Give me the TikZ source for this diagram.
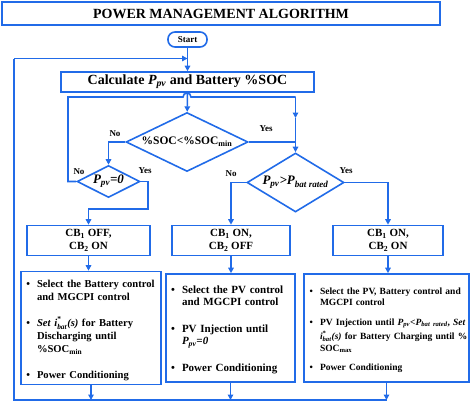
\documentclass[tikz,border=0pt]{standalone}
\usepackage{amsmath}
\usepackage{fontspec}
\setmainfont{Liberation Serif}
\usetikzlibrary{shapes.geometric,arrows.meta}
\definecolor{pmblue}{RGB}{33,107,232}

\newcommand{\pmfs}[2]{\fontsize{#1}{#2}\selectfont}
\newcommand{\ctr}[1]{\makebox[0pt]{#1}}
\newcommand{\Ppv}{$\textit{P}_{\textit{pv}}$}
\newcommand{\Pbr}{$\textit{P}_{\textit{bat rated}}$}
\newcommand{\ibat}{$\textit{i}^{\text{*}}_{\textit{bat}}$\textit{(s)}}
\newenvironment{pmlist}[1]{\begin{list}{\textbullet}{%
    \setlength{\leftmargin}{13pt}\setlength{\labelwidth}{6pt}%
    \setlength{\labelsep}{7pt}\setlength{\itemsep}{#1}%
    \setlength{\topsep}{0pt}\setlength{\parsep}{0pt}\setlength{\partopsep}{0pt}}}%
  {\end{list}}

\begin{document}
\begin{tikzpicture}[x=1pt, y=-1pt, line width=1.6pt, color=pmblue, text=black,
    every node/.style={font=\bfseries},
    blk/.style={draw=pmblue, align=center, inner sep=2pt},
    dia/.style={diamond, draw=pmblue, inner sep=0pt, aspect=1},
    act/.style={draw=pmblue, align=left, inner xsep=3pt, minimum height=108},
    lbl/.style={font=\bfseries\pmfs{9}{10}},
    arr/.style={-{Triangle[length=5.5pt, width=5.5pt]}}]
    \useasboundingbox (0,0) rectangle (474,402);

    \node[blk, minimum width=438, minimum height=23, font=\bfseries\pmfs{14}{16}] (title) at (221,13.5) {POWER MANAGEMENT ALGORITHM};
    \node[draw=pmblue, rounded corners=7pt, minimum width=39, minimum height=15, inner sep=0pt, font=\bfseries\pmfs{9}{10}] (start) at (187.5,39.5) {Start};
    \node[blk, minimum width=253, minimum height=20, font=\bfseries\pmfs{14}{16}] (calc) at (187.5,82) {Calculate \Ppv{} and Battery \%SOC};

    \node[dia, minimum width=122, minimum height=59, font=\bfseries\pmfs{11.5}{13}] (soc) at (187,142) {\ctr{\%SOC<\%SOC$_{\text{min}}$}};
    \node[dia, minimum width=63, minimum height=32, font=\bfseries\itshape\pmfs{13}{14}] (ppv) at (108.5,181.5) {\ctr{\Ppv=0}};
    \node[dia, minimum width=97, minimum height=59, font=\bfseries\itshape\pmfs{13}{14}] (rated) at (295.5,182.5) {\ctr{\Ppv>\Pbr}};

    \node[blk, minimum width=123, minimum height=30, font=\bfseries\pmfs{11}{13}] (cb1) at (88.5,240.5) {CB\textsubscript{1} OFF,\\CB\textsubscript{2} ON};
    \node[blk, minimum width=118, minimum height=30, font=\bfseries\pmfs{11}{13}] (cb2) at (231,240.5) {CB\textsubscript{1} ON,\\CB\textsubscript{2} OFF};
    \node[blk, minimum width=110, minimum height=30, font=\bfseries\pmfs{11}{13}] (cb3) at (388,240.5) {CB\textsubscript{1} ON,\\CB\textsubscript{2} ON};

    \node[act, text width=134, font=\bfseries\pmfs{10.6}{13}] (act1) at (91,328) {%
      \begin{pmlist}{13pt}
        \item Select the Battery control\\ and MGCPI control
        \item \textit{Set} \ibat{} for Battery\\ Discharging until\\ \%SOC$_{\text{min}}$
        \item Power Conditioning
      \end{pmlist}};
    \node[act, text width=123, font=\bfseries\pmfs{11}{12}] (act2) at (230.5,328) {%
      \begin{pmlist}{15pt}
        \item Select the PV control\\ and MGCPI control
        \item PV Injection until\\ \textit{\Ppv=0}
        \item Power Conditioning
      \end{pmlist}};
    \node[act, text width=159, font=\bfseries\pmfs{9.5}{11.5}] (act3) at (386.5,328) {%
      \begin{pmlist}{8pt}
        \item Select the PV, Battery control and\\ MGCPI control
        \item \mbox{PV Injection until \Ppv<\Pbr, \textit{Set}}\\[3pt] \mbox{\ibat{} for Battery Charging until \%}\\ SOC$_{\text{max}}$
        \item Power Conditioning
      \end{pmlist}};

    \node[lbl] (socno) at (115,134) {No};
    \node[lbl] (socyes) at (266,129) {Yes};
    \node[lbl] (ppvno) at (79,172) {No};
    \node[lbl] (ppvyes) at (145,171) {Yes};
    \node[lbl] (ratedno) at (231,174) {No};
    \node[lbl] (ratedyes) at (346,171) {Yes};

    \coordinate (loopL) at (68,97);
    \coordinate (hopA) at (183,97);
    \coordinate (loopR) at (295.5,97);
    \coordinate (loopM) at (295.5,118);
    \coordinate (ppvY) at (148,209);
    \coordinate (fbB) at (14,400);
    \coordinate (fbT) at (14,58.5);

    \draw[arr] (start) -- (calc);
    \draw[arr] (calc) -- (soc);
    \draw (ppv.west) -| (loopL) -- (hopA) arc[start angle=180, end angle=360, radius=4] -- (loopR);
    \draw[arr] (loopR) -- (loopM);
    \draw[arr] (loopM) -- (rated.north);
    \draw (soc.east) -- (soc.east -| rated.north);
    \draw[arr] (soc.west) -| (ppv.north);
    \draw[arr] (ppv.east) -| (ppvY) -| (cb1.north);
    \draw[arr] (rated.west) -| (cb2.north);
    \draw[arr] (rated.east) -| (cb3.north);

    \draw[arr] (cb1.south) -- (cb1.south |- act1.north);
    \draw[arr] (cb2.south) -- (cb2.south |- act2.north);
    \draw[arr] (cb3.south) -- (cb3.south |- act3.north);

    \draw[arr] (act1.south) -- (act1.south |- fbB);
    \draw[arr] (act2.south) -- (act2.south |- fbB);
    \draw[arr] (act3.south) -- (act3.south |- fbB);
    \draw (act3.south |- fbB) -- (fbB) -- (fbT);
    \draw[arr] (fbT) -- (fbT -| start.south);
\end{tikzpicture}
\end{document}
